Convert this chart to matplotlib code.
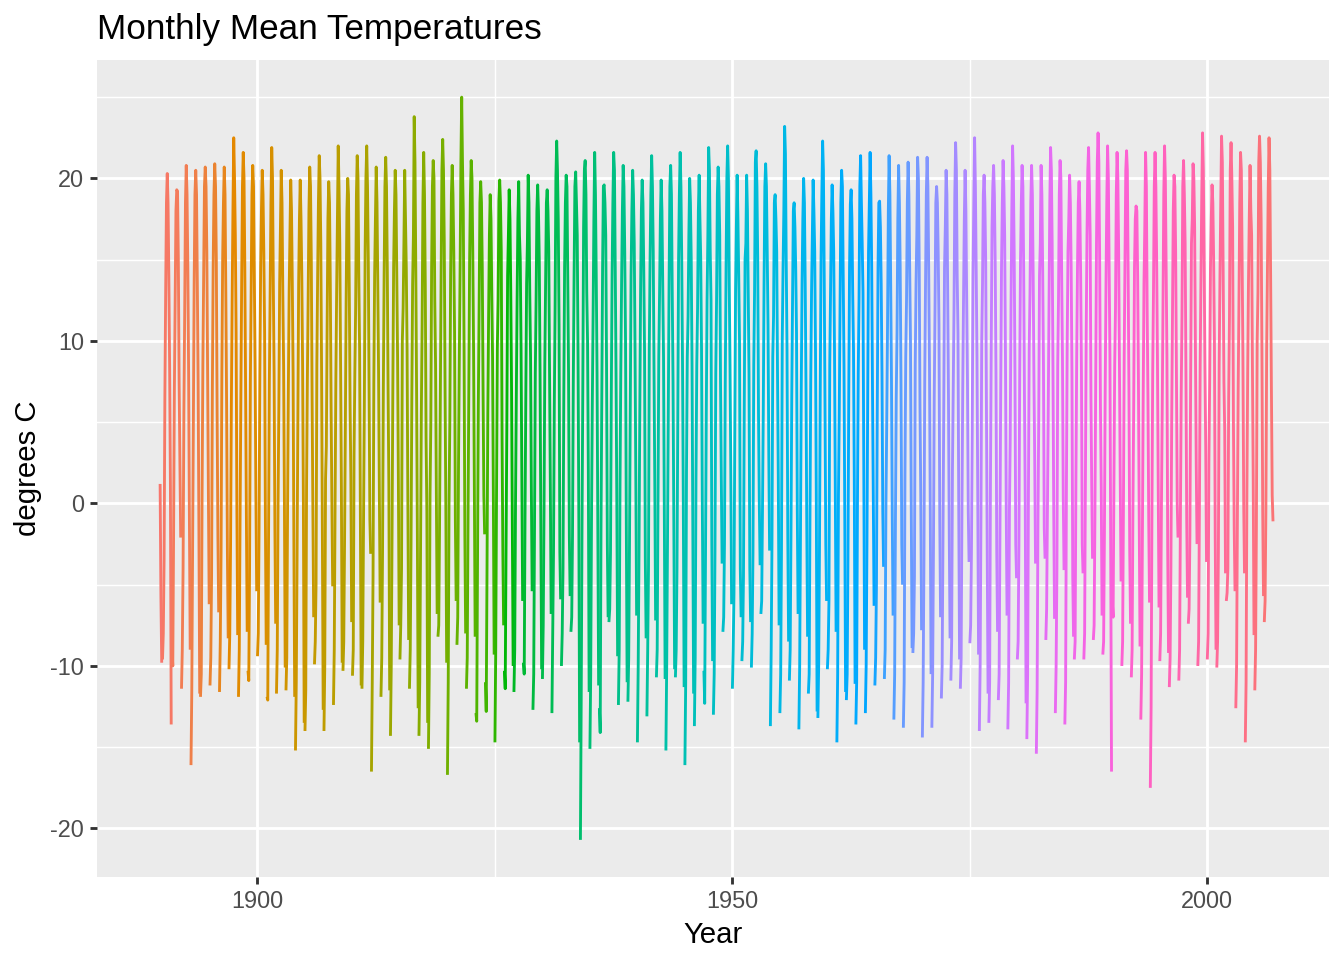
import numpy as np
import matplotlib
matplotlib.use("Agg")
import matplotlib.pyplot as plt
from matplotlib.ticker import FixedLocator

plt.rcParams['font.family'] = ['Liberation Sans', 'DejaVu Sans']
plt.rcParams['axes.unicode_minus'] = False

# one entry per year, 1889 .. 2006 (1889 only has Oct-Dec)
years = list(range(1889, 2007))

jan = [None,
       -9.6, -9.0, -11.4, -16.1, -11.9, -11.2, -11.6, -10.2, -11.9, -10.3,
       -9.4, -11.9, -11.7, -11.5, -15.2, -14.0, -9.9, -14.0, -12.4, -10.3,
       -10.6, -11.4, -16.5, -11.9, -14.3, -9.6, -11.4, -14.3, -15.1, -8.2,
       -16.7, -8.7, -11.4, -12.9, -11.0, -14.7, -10.3, -11.6, -9.8, -12.7,
       -10.8, -12.9, -10.0, -7.9, -20.7, -15.1, -12.6, -7.3, -12.4, -12.2,
       -14.7, -13.1, -10.7, -15.2, -10.7, -16.1, -13.7, -10.3, -13.0, -7.9,
       -11.4, -9.7, -10.1, -6.8, -13.7, -12.9, -10.9, -13.9, -11.7, -13.2,
       -10.2, -14.7, -12.1, -13.6, -12.9, -11.2, -10.8, -13.3, -13.8, -9.2,
       -14.4, -13.8, -12.0, -10.9, -11.4, -8.6, -14.0, -13.5, -12.1, -13.9,
       -9.6, -14.5, -15.4, -8.4, -12.9, -13.6, -9.6, -9.6, -8.4, -9.3,
       -6.0, -10.0, -10.7, -13.3, -17.5, -9.7, -11.3, -10.9, -7.4, -10.0,
       -9.6, -10.1, -6.0, -12.6, -14.7, -11.5, -7.3]
feb = [None,
       -8.0, -10.0, -9.0, -11.5, -10.5, -9.5, -8.5, -8.0, -9.0, -10.9,
       -8.0, -12.1, -9.0, -9.5, -11.0, -11.5, -8.5, -10.0, -9.0, -8.5,
       -9.0, -8.5, -11.0, -9.5, -10.0, -7.5, -9.0, -11.0, -10.5, -7.5,
       -11.0, -7.0, -9.5, -13.4, -12.8, -9.0, -11.4, -9.0, -10.5, -10.5,
       -7.5, -8.0, -8.0, -7.0, -12.0, -10.5, -14.1, -6.5, -9.0, -9.5,
       -10.0, -9.0, -9.0, -10.0, -9.0, -11.0, -9.5, -12.3, -10.5, -7.0,
       -9.0, -8.5, -8.0, -6.0, -9.0, -10.5, -9.0, -10.0, -10.5, -10.0,
       -9.0, -10.5, -10.5, -11.0, -10.0, -9.5, -9.0, -10.5, -11.0, -8.0,
       -11.0, -10.5, -10.0, -8.5, -9.5, -7.5, -10.0, -11.0, -10.5, -11.0,
       -8.5, -10.5, -11.5, -6.5, -10.0, -11.0, -8.5, -8.0, -7.5, -8.5,
       -7.0, -8.5, -9.0, -10.5, -12.5, -8.0, -9.5, -9.0, -6.5, -8.5,
       -8.0, -8.5, -5.5, -10.0, -11.0, -9.0, -6.0]
mar = [None,
       -3.5, -2.0, -4.0, -3.0, 0.5, -4.5, -3.0, -2.5, -1.0, -4.0,
       -1.5, -2.0, 0.0, -0.5, -3.5, 1.0, -5.0, 1.5, -0.5, -2.5,
       3.0, -1.0, -4.5, -3.0, -2.0, -4.0, -2.5, -3.0, 0.5, -1.5,
       0.0, 2.5, -1.0, -3.5, -4.0, 0.5, -3.0, 0.0, -1.0, -1.5,
       -0.5, -3.0, -4.0, -2.0, -1.5, -1.0, -1.5, -3.0, 1.0, -2.5,
       -3.0, -4.0, 0.0, -2.5, -4.0, 2.0, 1.5, -3.5, -3.0, -2.5,
       -5.5, -4.5, -3.0, -0.5, -2.5, -3.0, -2.0, -2.0, -1.0, -3.0,
       -6.0, 0.5, -3.5, 0.0, -2.5, -5.0, 0.0, -1.0, 1.5, -4.5,
       -3.5, -3.0, -2.5, 2.0, -0.5, -3.0, -1.0, 1.0, -2.0, -0.5,
       -2.5, 0.5, -1.5, -0.5, -4.0, 1.0, 1.5, 1.5, -1.0, -2.0,
       1.0, -0.5, -0.5, -2.0, -1.0, -0.5, -4.0, -1.0, -2.0, -0.5,
       2.5, -3.0, -4.0, -1.0, 0.5, -1.5, -0.5]
apr = [None,
       6.5, 7.0, 5.5, 5.0, 8.5, 7.0, 8.0, 6.0, 6.5, 7.5,
       8.0, 7.5, 6.0, 7.0, 5.0, 7.5, 8.5, 3.5, 7.5, 4.5,
       8.0, 6.0, 7.5, 7.0, 7.0, 10.0, 6.5, 5.5, 5.0, 6.5,
       5.0, 9.0, 7.0, 6.0, 5.5, 9.5, 4.5, 6.5, 6.5, 8.0,
       8.5, 6.0, 6.5, 7.5, 7.0, 6.0, 6.5, 6.5, 8.0, 6.0,
       5.5, 9.5, 9.0, 5.5, 5.0, 9.0, 8.5, 5.5, 8.0, 7.5,
       4.0, 6.0, 8.5, 5.5, 9.0, 10.0, 6.5, 7.0, 7.5, 7.0,
       8.5, 5.5, 6.5, 8.0, 7.0, 5.5, 5.0, 6.5, 9.0, 8.5,
       7.5, 6.5, 5.5, 7.0, 7.0, 4.5, 10.0, 9.5, 7.0, 4.0,
       8.0, 9.5, 5.0, 5.5, 8.5, 10.0, 9.0, 10.5, 7.5, 7.0,
       8.5, 9.0, 6.0, 6.5, 8.0, 5.5, 5.0, 6.5, 8.0, 8.5,
       7.5, 8.5, 6.5, 7.0, 8.0, 10.0, 9.5]
may = [None,
       13.0, 12.5, 11.5, 13.5, 14.0, 14.5, 15.0, 12.5, 13.5, 13.0,
       14.5, 13.0, 13.5, 13.0, 13.5, 12.5, 14.0, 11.0, 13.0, 12.5,
       12.0, 15.5, 14.0, 14.0, 14.5, 12.0, 13.5, 11.0, 14.5, 14.0,
       14.0, 14.5, 15.0, 12.0, 11.5, 12.5, 14.0, 12.5, 13.5, 12.5,
       13.5, 12.0, 14.5, 14.0, 17.0, 11.5, 14.5, 14.0, 13.5, 14.0,
       13.0, 15.0, 13.0, 13.5, 15.0, 11.5, 12.0, 12.5, 12.5, 14.5,
       13.0, 15.0, 13.0, 13.5, 11.5, 14.5, 12.5, 13.5, 13.0, 15.0,
       13.0, 12.0, 14.5, 12.5, 15.5, 14.5, 11.0, 10.5, 12.5, 13.5,
       13.5, 12.0, 14.5, 12.0, 12.5, 14.0, 13.5, 17.0, 14.5, 12.0,
       15.0, 13.0, 14.0, 12.0, 12.5, 15.5, 14.5, 16.5, 16.0, 13.5,
       12.0, 15.0, 14.5, 13.5, 13.0, 12.0, 11.5, 11.5, 16.0, 14.0,
       14.5, 14.0, 11.5, 12.5, 13.5, 13.0, 14.5]
jun = [None,
       18.5, 18.0, 18.5, 19.0, 19.5, 19.0, 18.5, 18.0, 19.5, 19.0,
       18.0, 18.5, 17.0, 16.5, 17.5, 18.0, 18.5, 17.5, 17.5, 18.0,
       19.0, 20.0, 17.5, 19.5, 18.0, 16.0, 16.5, 18.5, 19.5, 20.5,
       19.0, 21.0, 19.0, 18.5, 16.5, 18.6, 16.5, 17.5, 16.0, 18.0,
       18.5, 20.0, 18.5, 19.5, 20.5, 17.5, 19.5, 18.5, 18.0, 18.0,
       18.0, 19.0, 17.5, 19.5, 19.0, 16.5, 18.0, 16.5, 19.0, 20.0,
       17.0, 16.0, 21.0, 19.5, 18.5, 18.0, 18.0, 17.5, 16.5, 19.0,
       17.5, 18.5, 18.4, 19.5, 18.5, 18.5, 18.0, 17.5, 18.5, 16.5,
       19.0, 18.5, 17.0, 19.0, 17.5, 18.5, 19.0, 19.5, 18.5, 18.0,
       18.5, 18.5, 16.0, 18.5, 19.0, 17.5, 18.5, 20.5, 21.0, 18.5,
       19.0, 20.5, 17.5, 17.0, 19.5, 19.0, 18.0, 19.5, 17.5, 19.0,
       17.5, 18.5, 20.5, 18.5, 17.5, 21.0, 19.5]
jul = [None,
       20.3, 19.3, 20.8, 20.5, 20.7, 20.9, 20.7, 22.5, 21.6, 20.8,
       20.5, 21.9, 20.5, 19.9, 19.9, 20.7, 21.4, 19.8, 22.0, 20.0,
       21.4, 22.0, 20.7, 21.3, 20.5, 20.5, 23.8, 21.6, 21.1, 22.4,
       20.8, 25.0, 21.1, 19.8, 19.0, 19.9, 19.3, 19.8, 20.2, 19.6,
       19.3, 22.3, 20.2, 20.4, 21.1, 21.6, 19.6, 21.6, 20.8, 20.5,
       19.9, 21.4, 19.9, 20.8, 21.6, 20.0, 20.2, 21.9, 20.7, 22.0,
       20.2, 20.2, 21.7, 20.9, 19.0, 23.2, 18.5, 20.0, 19.9, 22.3,
       19.6, 20.5, 19.3, 21.4, 21.6, 18.6, 21.4, 20.8, 21.0, 21.3,
       21.3, 19.5, 20.5, 22.2, 20.5, 22.5, 20.2, 20.8, 21.1, 22.0,
       20.8, 20.8, 20.8, 21.9, 21.1, 20.2, 19.8, 21.9, 22.8, 22.0,
       21.6, 21.7, 18.3, 21.6, 21.6, 22.0, 20.2, 21.1, 20.9, 22.8,
       19.6, 22.6, 22.2, 21.6, 20.8, 22.6, 22.5]
aug = [None,
       18.5, 19.2, 19.0, 19.0, 19.5, 19.5, 19.0, 20.0, 20.0, 19.5,
       19.0, 20.0, 18.5, 18.0, 17.5, 19.5, 20.0, 18.5, 19.5, 19.0,
       20.0, 19.5, 18.5, 19.5, 19.0, 17.5, 21.0, 19.0, 20.0, 20.5,
       19.0, 21.0, 20.0, 18.5, 17.5, 18.5, 17.5, 16.5, 18.5, 18.0,
       18.0, 20.5, 19.5, 18.5, 19.0, 19.0, 18.5, 20.5, 19.5, 19.0,
       18.5, 19.5, 18.0, 19.0, 19.5, 18.5, 17.5, 20.5, 19.5, 20.0,
       17.5, 18.0, 19.5, 19.5, 17.5, 21.5, 17.0, 18.5, 18.0, 20.5,
       18.0, 19.5, 17.5, 18.5, 19.0, 17.0, 19.0, 18.5, 19.0, 20.0,
       19.5, 18.5, 19.0, 20.5, 18.0, 19.5, 18.5, 19.0, 19.5, 20.0,
       19.5, 19.0, 19.0, 20.5, 20.0, 18.5, 18.0, 19.5, 21.0, 20.0,
       20.0, 20.5, 18.0, 19.5, 19.5, 20.0, 19.5, 19.0, 20.0, 20.5,
       18.5, 21.0, 20.0, 20.5, 18.0, 21.0, 20.5]
sep = [None,
       14.0, 15.0, 14.5, 13.5, 15.5, 15.0, 13.0, 16.5, 14.5, 14.0,
       15.5, 13.5, 13.0, 13.5, 14.0, 15.0, 16.0, 13.5, 16.0, 13.0,
       14.0, 15.0, 13.5, 14.5, 14.0, 14.5, 14.5, 13.5, 12.5, 16.0,
       15.5, 18.0, 15.5, 14.5, 13.0, 15.5, 13.0, 15.0, 13.0, 15.0,
       15.5, 17.5, 14.0, 16.5, 13.0, 14.0, 16.5, 14.5, 15.5, 16.0,
       14.5, 15.5, 13.5, 13.0, 15.0, 15.0, 15.0, 15.5, 16.5, 13.5,
       14.0, 13.0, 15.0, 15.5, 15.5, 15.0, 14.5, 13.5, 15.5, 14.0,
       15.5, 14.0, 13.0, 16.0, 14.5, 13.5, 13.5, 14.5, 14.5, 15.0,
       14.5, 15.5, 13.0, 14.0, 12.5, 14.5, 15.0, 15.0, 16.5, 15.5,
       14.5, 14.0, 14.5, 16.0, 14.0, 14.5, 14.0, 16.5, 15.0, 14.5,
       15.5, 14.0, 14.0, 12.0, 15.0, 14.5, 15.5, 16.0, 17.0, 15.0,
       15.0, 14.5, 17.0, 15.0, 16.5, 17.5, 14.0]
oct_ = [1.2,
        8.5, 7.5, 8.0, 7.5, 8.0, 5.5, 6.0, 10.5, 7.0, 8.5,
        10.5, 8.0, 8.5, 8.0, 8.5, 6.5, 8.0, 6.0, 8.5, 6.0,
        9.5, 7.0, 8.0, 7.0, 9.0, 9.5, 7.0, 4.0, 8.5, 7.0,
        10.5, 9.5, 9.5, 7.0, 9.0, 4.0, 7.0, 9.5, 9.0, 8.0,
        8.0, 11.0, 8.0, 9.0, 10.0, 8.0, 8.5, 8.0, 10.0, 9.5,
        9.5, 8.0, 9.0, 7.5, 8.5, 8.5, 9.5, 12.5, 7.5, 8.5,
        10.0, 8.0, 5.5, 11.0, 8.0, 9.5, 10.5, 7.0, 9.5, 6.0,
        9.5, 8.5, 9.5, 13.0, 7.0, 8.0, 7.5, 7.5, 10.0, 6.0,
        8.5, 11.0, 6.5, 10.5, 7.5, 9.0, 5.5, 8.0, 9.0, 8.0,
        6.5, 7.5, 8.5, 8.5, 9.0, 8.0, 8.0, 6.5, 6.0, 9.0,
        8.5, 7.0, 7.5, 6.5, 9.0, 9.0, 8.0, 8.0, 9.5, 8.5,
        10.0, 7.5, 5.0, 9.0, 8.5, 9.5, 7.0]
nov = [-5.7,
       1.0, 2.5, -1.0, -1.5, 0.5, -2.0, -3.0, -0.5, -1.0, 0.5,
       -1.0, -1.5, 0.5, -2.5, 0.0, -0.5, -2.0, 0.0, 1.0, 1.5,
       -1.0, -1.0, 0.5, 1.0, 1.5, 0.0, -2.0, -0.5, 0.5, -0.5,
       -1.0, -2.0, 1.0, 0.5, 0.5, -3.0, -1.5, 1.5, 1.0, -1.5,
       1.0, -3.0, -2.0, -1.0, 2.0, -1.5, -2.5, 0.0, -1.5, 1.5,
       -3.5, 1.0, -0.5, -1.0, 0.0, -1.5, 0.0, -2.5, 1.5, 2.0,
       -4.0, -4.0, 0.0, 3.0, 1.5, -2.0, -0.5, -1.5, 0.5, -2.5,
       1.0, -1.0, 1.5, 2.5, 0.5, -0.5, -1.0, -2.5, -0.5, 0.5,
       -0.5, -1.0, -2.0, -0.5, -0.5, 0.5, -3.5, -3.0, -0.5, -2.5,
       0.0, 2.5, -1.5, -0.5, 0.5, -4.5, -2.5, 1.0, 1.0, -3.5,
       1.5, -3.0, -1.0, -1.0, 1.0, -3.0, 0.0, -1.0, 2.5, 3.5,
       -2.0, 4.5, -1.5, 0.0, 1.5, -0.5, 0.5]
dec = [-9.8,
       -13.6, -2.1, -9.0, -11.7, -6.2, -6.7, -8.3, -8.1, -7.9, -5.4,
       -8.7, -7.4, -10.1, -11.9, -13.5, -7.0, -12.7, -5.1, -9.8, -7.3,
       -11.2, -3.1, -6.1, -11.5, -7.5, -8.4, -12.6, -13.5, -6.8, -9.8,
       -6.0, -8.0, -8.2, -1.9, -9.3, -7.5, -10.0, -6.0, -5.4, -10.2,
       -6.8, -5.9, -5.7, -14.7, -11.6, -11.2, -7.0, -9.4, -11.0, -6.9,
       -8.3, -7.2, -10.8, -10.2, -11.3, -11.7, -7.4, -9.7, -3.7, -6.2,
       -7.0, -7.3, -3.8, -2.9, -7.5, -8.5, -6.8, -8.2, -12.8, -6.0,
       -7.9, -11.6, -11.1, -9.0, -6.3, -3.9, -6.9, -5.0, -8.9, -7.8,
       -10.5, -7.0, -8.3, -9.6, -3.6, -9.3, -11.7, -7.9, -6.9, -4.6,
       -12.3, -3.7, -3.4, -7.1, -4.1, -8.2, -4.3, -3.4, -6.9, -16.5,
       -4.8, -7.4, -8.8, -6.1, -6.4, -9.2, -2.1, -5.8, -2.5, -3.6,
       -9.0, -4.3, -5.4, -4.3, -8.1, -5.7, -1.1]

months = [jan, feb, mar, apr, may, jun, jul, aug, sep, oct_, nov, dec]


def hcl_color(h, c=100.0, l=65.0):
    # polar LUV -> sRGB, same as R's hcl() used by ggplot's hue palette
    xn, yn, zn = 95.047, 100.0, 108.883
    un = 4 * xn / (xn + 15 * yn + 3 * zn)
    vn = 9 * yn / (xn + 15 * yn + 3 * zn)
    u_ = c * np.cos(np.radians(h))
    v_ = c * np.sin(np.radians(h))
    y = yn * ((l + 16) / 116) ** 3
    u = u_ / (13 * l) + un
    v = v_ / (13 * l) + vn
    x = 9 * y * u / (4 * v)
    z = -x / 3 - 5 * y + 3 * y / v
    xyz = np.array([x, y, z]) / 100
    m = np.array([[3.240479, -1.537150, -0.498535],
                  [-0.969256, 1.875992, 0.041556],
                  [0.055648, -0.204043, 1.057311]])
    rgb = m @ xyz
    rgb = np.where(rgb <= 0.0031308, 12.92 * rgb, 1.055 * np.abs(rgb) ** (1 / 2.4) - 0.055)
    return tuple(np.clip(rgb, 0, 1))


n = len(years)
hues = np.linspace(15, 375, n + 1)[:-1]

fig = plt.figure(figsize=(7, 5), dpi=192)
ax = fig.add_axes([97 / 1344, 1 - 877 / 960, 1232 / 1344, 817 / 960])
ax.set_facecolor('#EBEBEB')

for i, yr in enumerate(years):
    xs = [yr + k / 12 for k in range(12)]
    ys = [np.nan if mth[i] is None else mth[i] for mth in months]
    ax.plot(xs, ys, color=hcl_color(hues[i]), lw=1.07,
            solid_capstyle='butt', solid_joinstyle='round')

# ggplot default expansion: 5% of the data range
all_vals = [v for mth in months for v in mth if v is not None]
x_lo, x_hi = years[0], years[-1] + 11 / 12
y_lo, y_hi = min(all_vals), max(all_vals)
dx, dy = (x_hi - x_lo) * 0.05, (y_hi - y_lo) * 0.05
ax.set_xlim(x_lo - dx, x_hi + dx)
ax.set_ylim(y_lo - dy, y_hi + dy)

ax.xaxis.set_major_locator(FixedLocator([1900, 1950, 2000]))
ax.xaxis.set_minor_locator(FixedLocator([1925, 1975]))
ax.yaxis.set_major_locator(FixedLocator([-20, -10, 0, 10, 20]))
ax.yaxis.set_minor_locator(FixedLocator([-15, -5, 5, 15, 25]))
ax.set_xticklabels(['1900', '1950', '2000'])
ax.set_yticklabels(['-20', '-10', '0', '10', '20'])

ax.set_axisbelow(True)
ax.grid(which='major', color='white', lw=1.07)
ax.grid(which='minor', color='white', lw=0.53)
for s in ax.spines.values():
    s.set_visible(False)

ax.tick_params(which='major', length=2.75, width=1.07, color='#333333',
               labelsize=8.8, labelcolor='#4D4D4D', pad=2.2)
ax.tick_params(which='minor', length=0)

ax.set_xlabel('Year', fontsize=11, labelpad=3)
ax.set_ylabel('degrees C', fontsize=11, labelpad=3)
ax.set_title('Monthly Mean Temperatures', loc='left', fontsize=13.2, pad=8)

fig.savefig('out.png', dpi=192)
